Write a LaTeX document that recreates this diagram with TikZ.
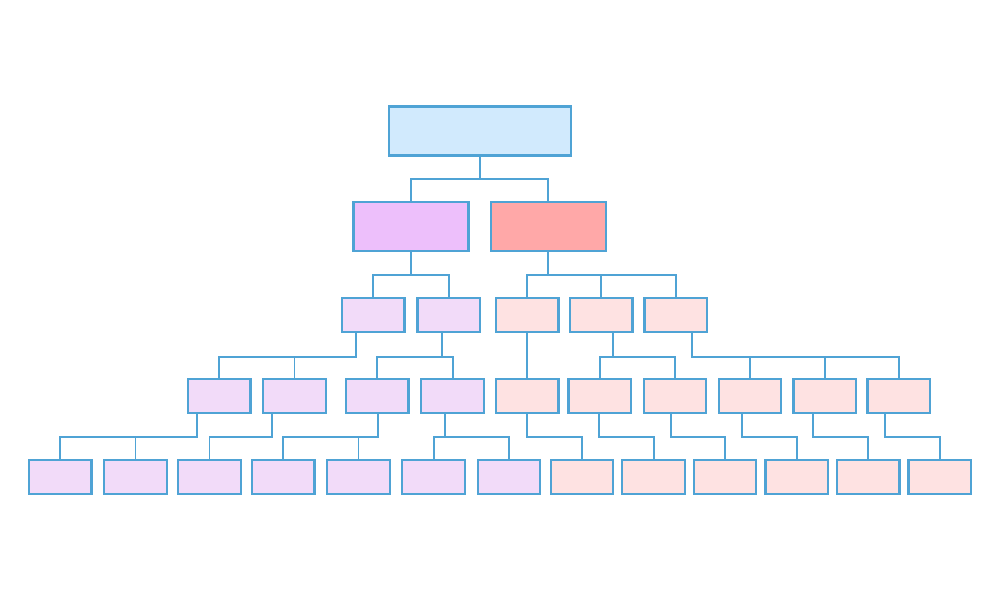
\documentclass[tikz,border=0pt]{standalone}
\usepackage{tikz}
\usetikzlibrary{calc, positioning}
\usepackage{xcolor}
\definecolor{myblue}{HTML}{4FA3D5}
\definecolor{rootfill}{HTML}{D1EAFD}
\definecolor{mypurple}{HTML}{EDBFFB}
\definecolor{myred}{HTML}{FFA8A8}
\definecolor{lightpurple}{HTML}{F2DBF9}
\definecolor{lightred}{HTML}{FEE2E2}
\tikzset{
  box/.style={draw=myblue, line width=2pt, inner sep=0pt},
  rootbox/.style={box, fill=rootfill, minimum width=5.46cm, minimum height=1.47cm},
  bigbox/.style={box, minimum width=3.45cm, minimum height=1.47cm},
  smallbox/.style={box, minimum width=1.875cm, minimum height=1.02cm},
  pbox/.style={smallbox, fill=lightpurple},
  rbox/.style={smallbox, fill=lightred},
  link/.style={draw=myblue, line width=1.7pt}
}
\begin{document}
\begin{tikzpicture}[x=0.03cm, y=-0.03cm]
	\useasboundingbox (0,0) rectangle (1000,600);
	\node [rootbox] (root) at (479.7,131) {};
	\node [bigbox, fill=mypurple] (pa) at (411,226.2) {};
	\node [bigbox, fill=myred] (ra) at (548.3,226.2) {};
	\node [pbox] (pb1) at (373.3,314.8) {};
	\node [pbox] (pb2) at (448.7,314.8) {};
	\node [rbox] (rb1) at (527.3,314.8) {};
	\node [rbox] (rb2) at (601.3,314.8) {};
	\node [rbox] (rb3) at (675.7,314.8) {};
	\node [pbox] (pc1) at (219.3,396.2) {};
	\node [pbox] (pc2) at (294.5,396.2) {};
	\node [pbox] (pc3) at (377.3,396.2) {};
	\node [pbox] (pc4) at (452.5,396.2) {};
	\node [rbox] (rc1) at (527.3,396.2) {};
	\node [rbox] (rc2) at (599.7,396.2) {};
	\node [rbox] (rc3) at (675,396.2) {};
	\node [rbox] (rc4) at (750,396.2) {};
	\node [rbox] (rc5) at (824.7,396.2) {};
	\node [rbox] (rc6) at (898.7,396.2) {};
	\node [pbox] (pd1) at (60.3,476.7) {};
	\node [pbox] (pd2) at (135.5,476.7) {};
	\node [pbox] (pd3) at (209.5,476.7) {};
	\node [pbox] (pd4) at (283.2,476.7) {};
	\node [pbox] (pd5) at (358.5,476.7) {};
	\node [pbox] (pd6) at (433.5,476.7) {};
	\node [pbox] (pd7) at (509,476.7) {};
	\node [rbox] (rd1) at (582,476.7) {};
	\node [rbox] (rd2) at (653.5,476.7) {};
	\node [rbox] (rd3) at (725,476.7) {};
	\node [rbox] (rd4) at (796.8,476.7) {};
	\node [rbox] (rd5) at (868.2,476.7) {};
	\node [rbox] (rd6) at (939.8,476.7) {};
	\coordinate (j0) at ($(root.south)+(0,22)$);
	\draw [link] (root.south) -- (j0) -| (pa.north);
	\draw [link] (j0) -| (ra.north);
	\coordinate (ja) at ($(pa.south)+(0,23.6)$);
	\draw [link] (pa.south) -- (ja) -| (pb1.north);
	\draw [link] (ja) -| (pb2.north);
	\coordinate (jr) at ($(ra.south)+(0,23.6)$);
	\draw [link] (ra.south) -- (jr) -| (rb1.north);
	\draw [link] (jr) -| (rb2.north);
	\draw [link] (jr) -| (rb3.north);
	\coordinate (jb1) at ($(pb1.south)+(-17.3,23.7)$);
	\draw [link] (pb1.south -| jb1) -- (jb1) -| (pc1.north);
	\draw [link] (jb1) -| (pc2.north);
	\coordinate (jb2) at ($(pb2.south)+(-6.4,23.7)$);
	\draw [link] (pb2.south -| jb2) -- (jb2) -| (pc3.north);
	\draw [link] (jb2) -| (pc4.north);
	\draw [link] (rb1.south) -- (rc1.north);
	\coordinate (jr2) at ($(rb2.south)+(12,23.7)$);
	\draw [link] (rb2.south -| jr2) -- (jr2) -| (rc2.north);
	\draw [link] (jr2) -| (rc3.north);
	\coordinate (jr3) at ($(rb3.south)+(16,23.7)$);
	\draw [link] (rb3.south -| jr3) -- (jr3) -| (rc4.north);
	\draw [link] (jr3) -| (rc5.north);
	\draw [link] (jr3) -| (rc6.north);
	\coordinate (jc1) at ($(pc1.south)+(-22,22.4)$);
	\draw [link] (pc1.south -| jc1) -- (jc1) -| (pd1.north);
	\draw [link] (jc1) -| (pd2.north);
	\coordinate (jc2) at ($(pc2.south)+(-22.2,22.4)$);
	\draw [link] (pc2.south -| jc2) -- (jc2) -| (pd3.north);
	\coordinate (jc3) at ($(pc3.south)+(0.7,22.4)$);
	\draw [link] (pc3.south -| jc3) -- (jc3) -| (pd4.north);
	\draw [link] (jc3) -| (pd5.north);
	\coordinate (jc4) at ($(pc4.south)+(-7.2,22.4)$);
	\draw [link] (pc4.south -| jc4) -- (jc4) -| (pd6.north);
	\draw [link] (jc4) -| (pd7.north);
	\coordinate (kr1) at ($(rc1.south)+(0,22.4)$);
	\draw [link] (rc1.south) -- (kr1) -| (rd1.north);
	\coordinate (kr2) at ($(rc2.south)+(-0.7,22.4)$);
	\draw [link] (rc2.south -| kr2) -- (kr2) -| (rd2.north);
	\coordinate (kr3) at ($(rc3.south)+(-4.3,22.4)$);
	\draw [link] (rc3.south -| kr3) -- (kr3) -| (rd3.north);
	\coordinate (kr4) at ($(rc4.south)+(-8,22.4)$);
	\draw [link] (rc4.south -| kr4) -- (kr4) -| (rd4.north);
	\coordinate (kr5) at ($(rc5.south)+(-11.4,22.4)$);
	\draw [link] (rc5.south -| kr5) -- (kr5) -| (rd5.north);
	\coordinate (kr6) at ($(rc6.south)+(-13.7,22.4)$);
	\draw [link] (rc6.south -| kr6) -- (kr6) -| (rd6.north);
\end{tikzpicture}
\end{document}
